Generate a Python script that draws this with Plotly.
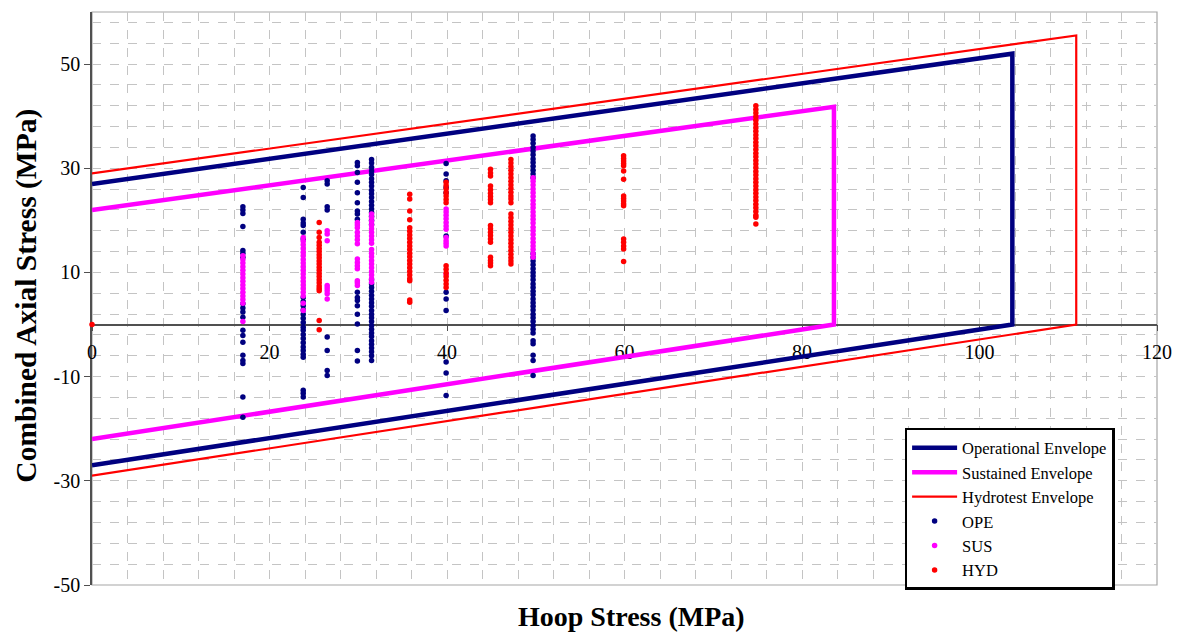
import plotly.graph_objects as go

# ---------------- Envelope polylines (Hoop, Axial) ----------------
ope_env_x = [0, 103.7, 103.7, 0]
ope_env_y = [27.0, 52.0, 0.0, -27.0]
sus_env_x = [0, 83.6, 83.6, 0]
sus_env_y = [22.0, 41.8, 0.0, -22.0]
hyd_env_x = [0, 110.9, 110.9, 0]
hyd_env_y = [29.0, 55.5, 0.0, -29.0]

# ---------------- OPE points: hoop stress columns & axial values ----------------
ope_hoop = [17.0, 23.8, 26.5, 29.9, 31.5, 39.9, 49.7]
ope_axial = [
    [22.6, 22.0, 21.3, 18.8, 14.2, 13.7, 12.9, 4.0, 3.2, 2.4, 1.4, -1.1, -2.1, -3.4, -5.9, -6.9, -7.5, -13.9, -17.8],
    [26.3, 24.4, 20.2, 19.5, 19.0, 17.7, 16.4, 5.2, 4.4, 3.6, 2.8, 2.0, 1.2, 0.4, -0.5, -1.1, -1.9, -2.7, -3.5,
     -4.3, -5.0, -5.7, -6.3, -12.6, -13.2, -13.9],
    [27.6, 27.0, 22.6, 22.0, -2.4, -5.0, -8.8, -9.8],
    [31.1, 30.5, 29.2, 27.3, 25.3, 23.4, 21.8, 21.2, 20.2, 6.2, 5.2, 4.6, 3.6, 2.0, 0.1, -5.0, -7.0],
    [31.7, 31.0, 30.2, 29.5, 28.8, 28.0, 27.3, 26.6, 25.8, 25.1, 24.4, 23.6, 22.9, 22.2, 21.5, 20.8, 20.0, 19.2,
     8.6, 7.8, 7.1, 6.4, 5.6, 4.9, 4.2, 3.5, 2.7, 2.0, 1.3, 0.6, -0.2, -0.9, -1.6, -2.3, -3.1, -3.8, -4.5, -5.2,
     -6.0, -6.9],
    [30.9, 28.9, 27.6, 26.3, 25.3, 17.0, 6.2, 4.9, 2.7, -7.2, -9.3, -13.6],
    [36.2, 35.5, 34.8, 34.0, 33.3, 32.6, 31.8, 31.1, 30.4, 29.6, 28.9, 28.2, 13.6, 12.9, 12.2, 11.5, 10.7, 10.0,
     9.3, 8.6, 7.8, 7.1, 6.4, 5.7, 4.9, 4.2, 3.5, 2.8, 2.0, 1.3, 0.6, -0.2, -0.9, -1.6, -3.1, -3.7, -5.9, -6.9,
     -9.8],
]

# ---------------- SUS points ----------------
sus_hoop = [17.0, 23.8, 26.5, 29.9, 31.5, 39.9, 49.7]
sus_axial = [
    [13.2, 12.5, 11.8, 11.1, 10.4, 9.7, 9.0, 8.3, 7.6, 6.9, 6.2, 5.5, 4.8, 4.1, 0.6],
    [16.7, 16.0, 15.3, 14.6, 13.9, 13.2, 12.5, 11.8, 11.1, 10.4, 9.7, 9.0, 8.3, 7.6, 6.9, 6.2, 5.5, 4.1, 2.7],
    [18.0, 17.4, 16.1, 7.5, 7.0, 6.5, 5.9, 4.9],
    [19.6, 19.1, 18.6, 17.7, 17.0, 16.3, 15.5, 12.6, 11.9, 11.3, 10.7, 8.4, 8.0, 7.5],
    [21.2, 20.5, 19.8, 19.1, 18.4, 17.7, 17.0, 16.3, 15.6, 14.4, 13.7, 13.0, 12.3, 11.6, 10.9, 10.2, 9.5, 8.8, 8.1],
    [22.2, 21.6, 21.0, 20.3, 19.6, 18.9, 18.3, 16.7, 16.1, 15.6, 15.1, 9.7],
    [28.2, 27.5, 26.8, 26.0, 25.3, 24.6, 23.8, 23.1, 22.4, 21.6, 20.9, 20.2, 19.5, 18.7, 18.0, 17.3, 16.5, 15.8,
     15.1, 14.4, 13.6, 12.9],
]

# ---------------- HYD points ----------------
hyd_hoop = [0.0, 25.6, 35.8, 39.9, 44.9, 47.2, 59.9, 74.8]
hyd_axial = [
    [0.0],
    [19.6, 17.7, 16.7, 15.8, 15.2, 14.6, 14.0, 13.4, 12.8, 12.2, 11.6, 11.0, 10.4, 9.8, 9.2, 8.6, 8.0, 7.4, 6.9,
     6.5, 0.8, -1.0],
    [25.0, 24.1, 21.8, 20.1, 18.6, 17.9, 17.2, 16.5, 15.8, 15.1, 14.4, 13.7, 13.0, 12.3, 11.6, 10.9, 10.2, 9.5,
     8.8, 8.4, 4.7, 4.3],
    [27.3, 26.7, 26.0, 25.3, 24.7, 24.0, 23.4, 11.3, 10.6, 9.9, 9.2, 8.5, 7.8, 7.1],
    [29.8, 29.1, 28.5, 26.6, 25.9, 25.2, 24.6, 24.0, 23.4, 19.0, 18.4, 17.7, 17.1, 16.4, 15.8, 12.9, 12.3, 11.8,
     11.3],
    [31.7, 31.0, 30.3, 29.6, 28.9, 28.2, 27.5, 26.8, 26.1, 25.4, 24.7, 24.1, 23.4, 21.2, 20.5, 19.8, 19.1, 18.4,
     17.7, 17.0, 16.3, 15.6, 14.9, 14.2, 13.5, 12.8, 12.2, 11.6],
    [32.4, 31.9, 31.4, 30.9, 30.5, 29.5, 27.9, 24.7, 24.2, 23.7, 23.2, 22.8, 16.4, 15.8, 15.1, 14.5, 12.1],
    [42.0, 41.3, 40.6, 39.9, 39.2, 38.5, 37.8, 37.1, 36.4, 35.7, 35.0, 34.3, 33.6, 32.9, 32.2, 31.5, 30.8, 30.1,
     29.4, 28.7, 28.0, 27.3, 26.6, 25.9, 25.2, 24.5, 23.8, 23.1, 22.4, 21.7, 21.0, 20.6, 19.3],
]

x_tickvals = [0, 20, 40, 60, 80, 100, 120]
y_tickvals = [-50, -30, -10, 10, 30, 50]

NAVY = "#000080"
MAGENTA = "#FF00FF"
RED = "#FF0000"
FONT = "Liberation Serif"


def flatten(hoops, axials):
    xs, ys = [], []
    for h, col in zip(hoops, axials):
        for v in col:
            xs.append(h)
            ys.append(v)
    return xs, ys


fig = go.Figure()
fig.add_trace(go.Scatter(x=ope_env_x, y=ope_env_y, mode="lines", name="Operational Envelope",
                         line=dict(color=NAVY, width=4.5)))
fig.add_trace(go.Scatter(x=sus_env_x, y=sus_env_y, mode="lines", name="Sustained Envelope",
                         line=dict(color=MAGENTA, width=4.5)))
fig.add_trace(go.Scatter(x=hyd_env_x, y=hyd_env_y, mode="lines", name="Hydrotest Envelope",
                         line=dict(color=RED, width=2.2)))

for name, hoops, axials, color in [("OPE", ope_hoop, ope_axial, NAVY),
                                   ("SUS", sus_hoop, sus_axial, MAGENTA),
                                   ("HYD", hyd_hoop, hyd_axial, RED)]:
    xs, ys = flatten(hoops, axials)
    fig.add_trace(go.Scatter(x=xs, y=ys, mode="markers", name=name, cliponaxis=False,
                             marker=dict(color=color, size=5.5, line=dict(width=0))))

grid_col = "#C4C4C4"
fig.update_layout(
    width=1170, height=624,
    margin=dict(l=84, r=21, t=4, b=47),
    paper_bgcolor="white", plot_bgcolor="white",
    font=dict(family=FONT, color="black", size=20),
    showlegend=True,
    legend=dict(x=0.763, y=0.274, xanchor="left", yanchor="top",
                bgcolor="white", bordercolor="black", borderwidth=2.5,
                font=dict(family=FONT, size=16.5, color="black"),
                tracegroupgap=0, itemwidth=45),
    xaxis=dict(range=[0, 120], tickvals=x_tickvals, ticktext=[str(v) for v in x_tickvals],
               anchor="free", position=50 / 110, layer="below traces",
               showline=True, linecolor="#505050", linewidth=1.5,
               ticks="outside", ticklen=6, tickcolor="#505050", tickwidth=1.2,
               ticklabelstandoff=4,
               showgrid=True, gridcolor=grid_col, griddash="dash", gridwidth=1,
               zeroline=False,
               minor=dict(tick0=0, dtick=4, showgrid=True, gridcolor=grid_col, griddash="dash", gridwidth=1),
               tickfont=dict(family=FONT, size=20, color="black")),
    yaxis=dict(range=[-50, 60], tickvals=y_tickvals, ticktext=[str(v) for v in y_tickvals],
               layer="below traces",
               showline=True, linecolor="#505050", linewidth=1.5,
               ticks="outside", ticklen=6, tickcolor="#505050", tickwidth=1.2,
               showgrid=True, gridcolor=grid_col, griddash="dash", gridwidth=1,
               zeroline=False,
               minor=dict(tick0=-50, dtick=4, showgrid=True, gridcolor=grid_col, griddash="dash", gridwidth=1),
               tickfont=dict(family=FONT, size=20, color="black")),
    shapes=[dict(type="rect", xref="paper", yref="paper", x0=0, x1=1, y0=0, y1=1,
                 line=dict(color="#A6A6A6", width=1.2), layer="below")],
    annotations=[
        dict(text="<b>Hoop Stress (MPa)</b>", xref="paper", yref="paper", x=0.507, y=0,
             yshift=-31, xanchor="center", yanchor="middle", showarrow=False,
             font=dict(family=FONT, size=28, color="black")),
        dict(text="<b>Combined Axial Stress (MPa)</b>", xref="paper", yref="paper", x=0, y=0.505,
             xshift=-65, xanchor="center", yanchor="middle", textangle=-90, showarrow=False,
             font=dict(family=FONT, size=29.5, color="black")),
    ],
)

fig.write_html("out.html")
